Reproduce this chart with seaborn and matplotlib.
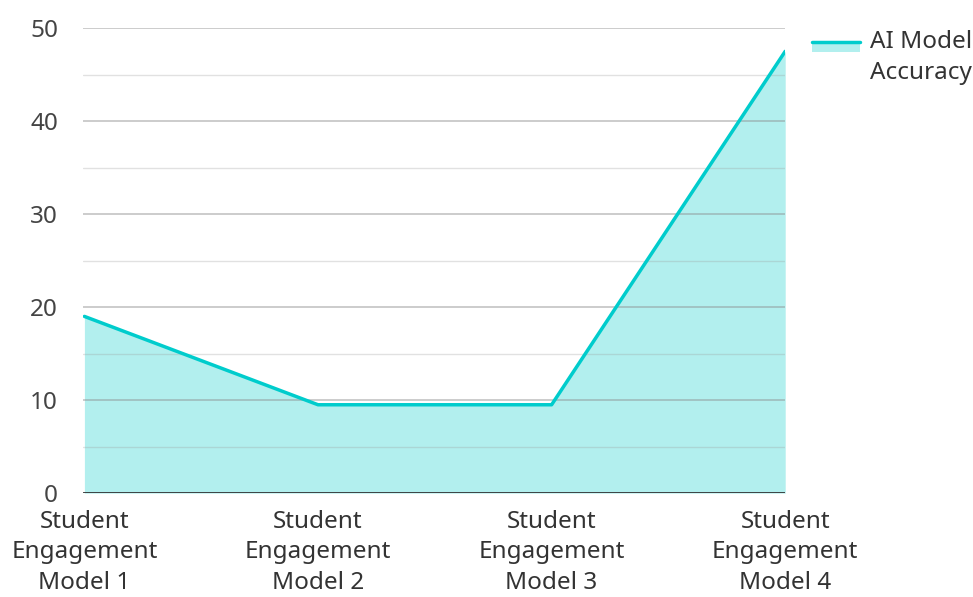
import matplotlib
matplotlib.use("Agg")
import matplotlib.pyplot as plt
import seaborn as sns
import pandas as pd
from matplotlib.patches import Rectangle
from matplotlib.lines import Line2D

# chart data
categories = ["Student\nEngagement\nModel 1", "Student\nEngagement\nModel 2",
              "Student\nEngagement\nModel 3", "Student\nEngagement\nModel 4"]
accuracy = [19, 9.5, 9.5, 47.5]
series_name = "AI Model\nAccuracy"

df = pd.DataFrame({"model": categories, "accuracy": accuracy, "x": range(len(categories))})

sns.set_style("white")
plt.rcParams['font.family'] = ['Noto Sans', 'DejaVu Sans']

line_color = "#00cccc"
fill_color = "#b2efee"
text_color = "#333333"
fs = 17.5

fig = plt.figure(figsize=(9.73, 5.97), dpi=100)
ax = fig.add_axes([0.0853, 0.174, 0.7217, 0.779])

ax.fill_between(df["x"], df["accuracy"], 0, color=fill_color, zorder=1, linewidth=0)
sns.lineplot(data=df, x="x", y="accuracy", color=line_color, linewidth=2.5, ax=ax, zorder=3)

# gridlines drawn over the fill
for v in range(5, 50, 10):
    ax.axhline(v, color="#9e9e9e", alpha=0.3, linewidth=1, zorder=2)
for v in range(10, 51, 10):
    ax.axhline(v, color="#8a8a8a", alpha=0.5, linewidth=1.2, zorder=2)
ax.axhline(0, color="#333333", linewidth=2, zorder=4)

ax.set_xlim(-0.006, len(categories) - 1)
ax.set_ylim(0, 50)
ax.set_yticks(range(0, 51, 10))
ax.set_xticks(df["x"])
ax.set_xticklabels(categories, fontsize=fs, color=text_color, linespacing=1.36)
ax.tick_params(axis="y", labelsize=fs, labelcolor="#444444", length=0, pad=18)
ax.tick_params(axis="x", length=0, pad=12)
ax.set_xlabel("")
ax.set_ylabel("")
for s in ax.spines.values():
    s.set_visible(False)

# legend: swatch with line on its top edge
fig.add_artist(Rectangle((0.8345, 0.913), 0.0494, 0.017, transform=fig.transFigure,
                         facecolor=fill_color, edgecolor="none"))
fig.add_artist(Line2D([0.8345, 0.8839], [0.9296, 0.9296], transform=fig.transFigure,
                      color=line_color, linewidth=2.5))
fig.text(0.894, 0.950, series_name, fontsize=fs, color=text_color,
         va="top", ha="left", linespacing=1.4)

fig.savefig("out.png", dpi=100)
